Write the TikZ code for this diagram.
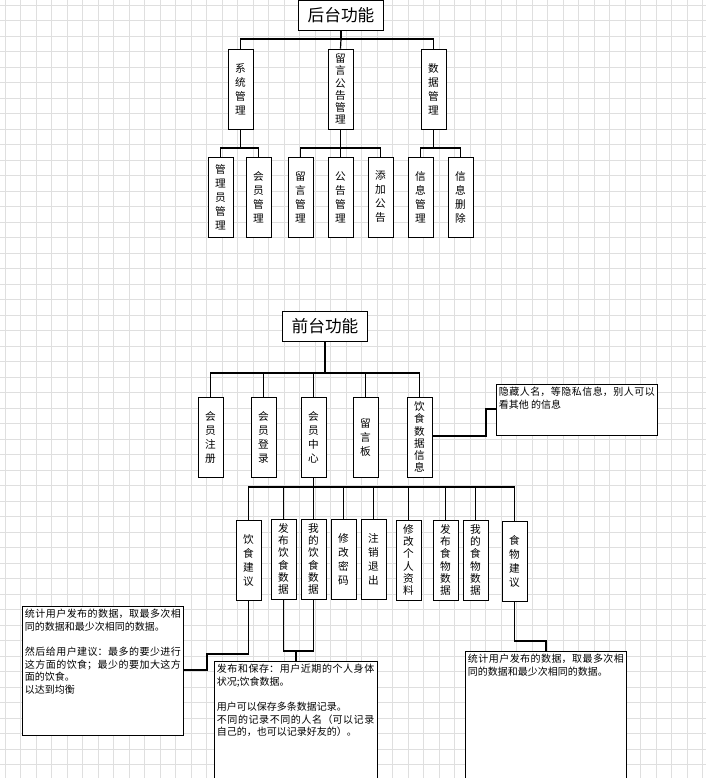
\documentclass[tikz,border=0pt]{standalone}
\usepackage{fontspec}
\setmainfont{Noto Sans CJK SC}
\XeTeXlinebreaklocale "zh"
\XeTeXlinebreakskip=0pt plus 1pt
\begin{document}
\begin{tikzpicture}[x=0.75pt,y=-0.75pt,
  vb/.style={draw,fill=white,minimum width=18.75pt,minimum height=60pt,inner sep=0pt,align=center,font=\fontsize{8}{10.5}\selectfont},
  ttl/.style={draw,fill=white,minimum width=64pt,minimum height=22.5pt,inner sep=0pt,font=\fontsize{12.5}{14}\selectfont},
  note/.style={draw,fill=white,inner sep=2pt,anchor=north west,font=\fontsize{7.5}{9.5}\selectfont},
  ln/.style={line width=0.9pt}]
\useasboundingbox (0,0) rectangle (706,778);
\foreach \i in {0,...,46} {\draw[gray!25,line width=0.4pt] (\i*15.5+5,0) -- (\i*15.5+5,778);}
\foreach \i in {0,...,50} {\draw[gray!25,line width=0.4pt] (0,\i*15.5+5) -- (706,\i*15.5+5);}
% backend
\node[ttl] (bt) at (341,15) {后台功能};
\node[vb] (s1) at (240.5,89) {系\\统\\管\\理};
\node[vb,font=\fontsize{8}{9.2}\selectfont] (s2) at (340.5,89) {留\\言\\公\\告\\管\\理};
\node[vb] (s3) at (433.5,89) {数\\据\\管\\理};
\node[vb] (a1) at (220.5,197) {管\\理\\员\\管\\理};
\node[vb] (a2) at (258.5,197) {会\\员\\管\\理};
\node[vb] (b1) at (300.5,197) {留\\言\\管\\理};
\node[vb] (b2) at (340.5,197) {公\\告\\管\\理};
\node[vb] (b3) at (380.5,197) {添\\加\\公\\告};
\node[vb] (c1) at (420.5,197) {信\\息\\管\\理};
\node[vb] (c2) at (460.5,197) {信\\息\\删\\除};
\draw[ln] (bt.south) -- (341,39);
\draw[ln] (s1.north) |- (s3.north |- 0,39) -- (s3.north);
\draw[ln] (s2.north) -- (341,39);
\draw[ln] (s1.south) -- (240.5,148);
\draw[ln] (a1.north) |- (a2.north |- 0,148) -- (a2.north);
\draw[ln] (s2.south) -- (340.5,148);
\draw[ln] (b1.north) |- (b3.north |- 0,148) -- (b3.north);
\draw[ln] (b2.north) -- (340.5,148);
\draw[ln] (s3.south) -- (433.5,148);
\draw[ln] (c1.north) |- (c2.north |- 0,148) -- (c2.north);
% frontend
\node[ttl] (ft) at (325,326) {前台功能};
\node[vb] (f1) at (210.5,437) {会\\员\\注\\册};
\node[vb] (f2) at (263.5,437) {会\\员\\登\\录};
\node[vb] (f3) at (313.5,437) {会\\员\\中\\心};
\node[vb] (f4) at (365.5,437) {留\\言\\板};
\node[vb,font=\fontsize{8}{9.2}\selectfont] (f5) at (419.5,437) {饮\\食\\数\\据\\信\\息};
\node[note] (nr) at (496,384) {\parbox[t][34pt][t]{117pt}{隐藏人名，等隐私信息，别人可以看其他 的信息}};
\draw[line width=2pt] (ft.south) -- (325,373);
\draw[ln] (f1.north) |- (f5.north |- 0,373) -- (f5.north);
\draw[ln] (f2.north) -- (263.5,373);
\draw[ln] (f3.north) -- (313.5,373);
\draw[ln] (f4.north) -- (365.5,373);
\draw[ln] (f5.east |- 0,436) -- (486,436) -- (486,409) -- (nr.west |- 0,409);
% member center children
\node[vb] (g1) at (248.5,560) {饮\\食\\建\\议};
\node[vb,font=\fontsize{8}{9.2}\selectfont] (g2) at (283.5,559) {发\\布\\饮\\食\\数\\据};
\node[vb,font=\fontsize{8}{9.2}\selectfont] (g3) at (313.5,559) {我\\的\\饮\\食\\数\\据};
\node[vb] (g4) at (343.5,559) {修\\改\\密\\码};
\node[vb] (g5) at (373.5,559) {注\\销\\退\\出};
\node[vb,font=\fontsize{8}{9.2}\selectfont] (g6) at (408.5,560) {修\\改\\个\\人\\资\\料};
\node[vb,font=\fontsize{8}{9.2}\selectfont] (g7) at (445.5,560) {发\\布\\食\\物\\数\\据};
\node[vb,font=\fontsize{8}{9.2}\selectfont] (g8) at (475.5,560) {我\\的\\食\\物\\数\\据};
\node[vb] (g9) at (514.5,561) {食\\物\\建\\议};
\draw[ln] (f3.south) -- (313.5,487);
\draw[ln] (g1.north) |- (g9.north |- 0,487) -- (g9.north);
\draw[line width=2pt] (313.5,487) -- (476,487);
\foreach \n in {g2,g3,g4,g5,g6,g7,g8} {\draw[ln] (\n.north) -- (\n.north |- 0,487);}
% notes
\node[note] (nl) at (22,606) {\parbox[t][92.5pt][t]{117pt}{统计用户发布的数据，取最多次相同的数据和最少次相同的数据。\\[9.5pt]然后给用户建议：最多的要少进行这方面的饮食；最少的要加大这方面的饮食。\\以达到均衡}};
\node[note] (nm) at (214,661) {\parbox[t][100pt][t]{118pt}{发布和保存：用户近期的个人身体状况;饮食数据。\\[9.5pt]用户可以保存多条数据记录。\\不同的记录不同的人名（可以记录自己的，也可以记录好友的）。}};
\node[note] (nq) at (465,651) {\parbox[t][100pt][t]{117pt}{统计用户发布的数据，取最多次相同的数据和最少次相同的数据。}};
\draw[ln] (g1.south) -- (248.5,654) -- (207,654) -- (207,670) -- (nl.east |- 0,670);
\draw[ln] (g2.south) -- (283.5,651) -- (313.5,651) -- (g3.south);
\draw[ln] (296,651) -- (nm.north -| 296,0);
\draw[ln] (g9.south) -- (514.5,641) -- (546,641) -- (nq.north -| 546,0);
\end{tikzpicture}
\end{document}
